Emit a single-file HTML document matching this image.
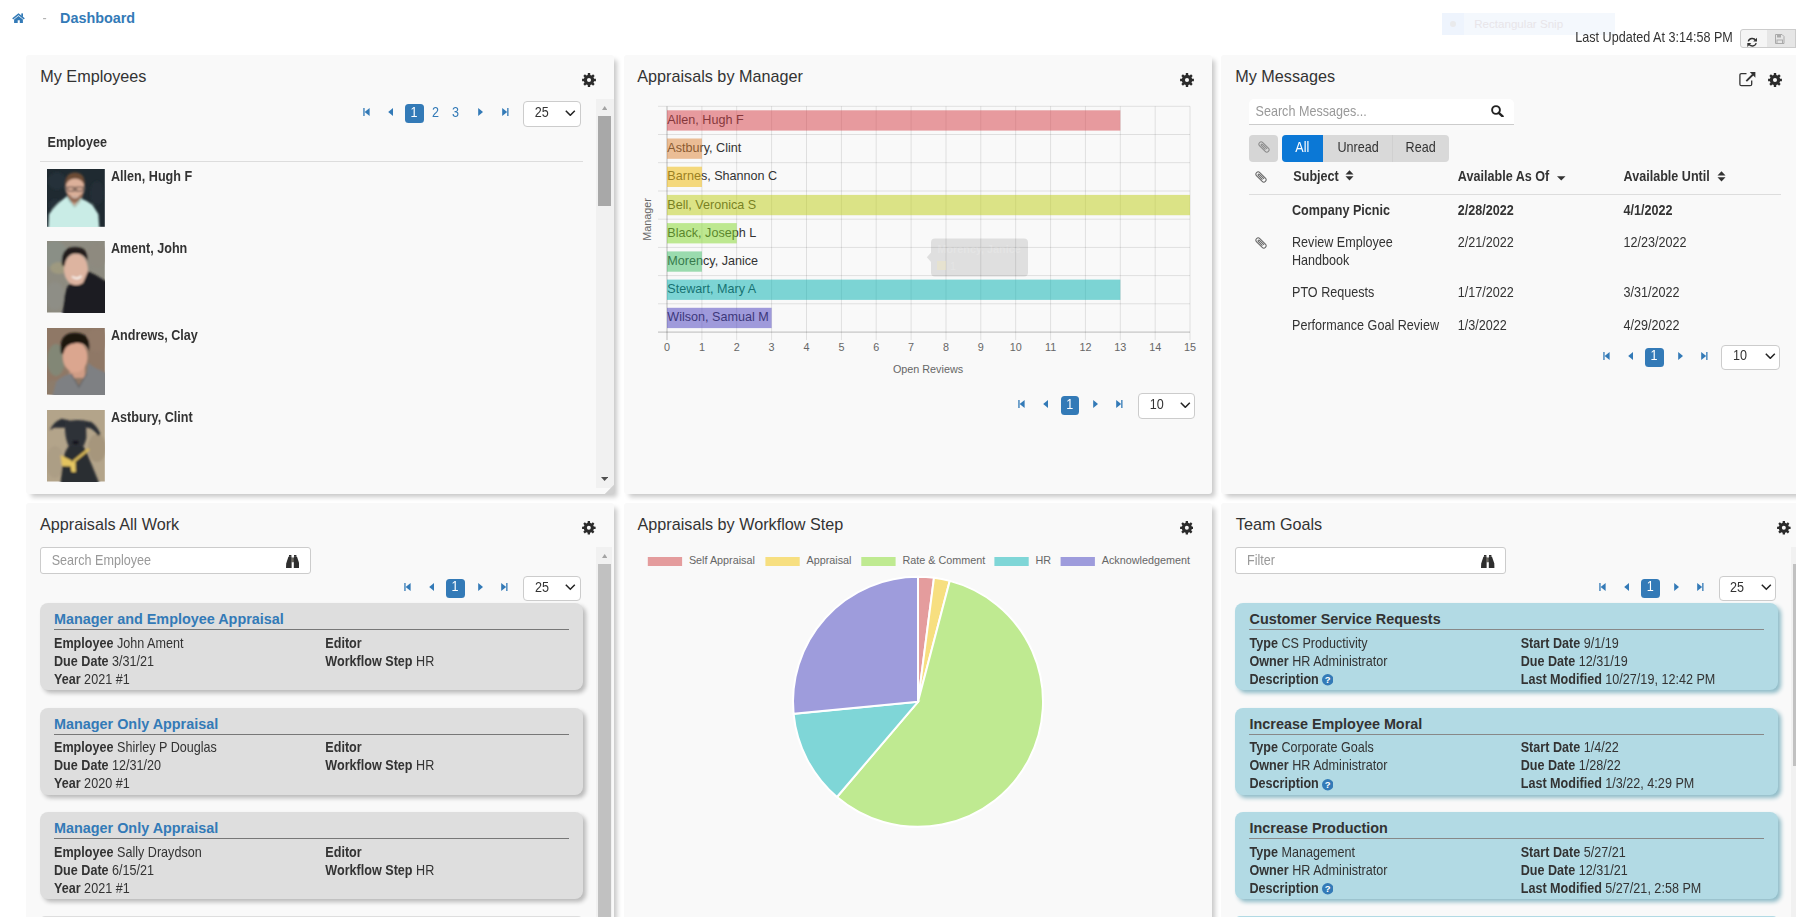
<!DOCTYPE html>
<html><head><meta charset="utf-8"><title>Dashboard</title>
<style>
html,body{margin:0;padding:0;background:#fff;width:1796px;height:917px;overflow:hidden;position:relative}
body{font-family:"Liberation Sans",sans-serif;color:#333}
.a{position:absolute;display:block}
.t{position:absolute;white-space:nowrap;font-family:"Liberation Sans",sans-serif}
b{font-weight:700}
</style></head><body>
<svg class="a" style="left:12px;top:12.5px;" width="13.5" height="11" viewBox="0 0 13.5 11"><path d="M0.7,5.9 L6.5,1.1 L12.3,5.9" fill="none" stroke="#337ab7" stroke-width="1.5"/><rect x="9.3" y="0.4" width="1.7" height="3.4" fill="#337ab7"/><path d="M2.1,10.1 L2.1,6.4 L6.5,2.9 L10.9,6.4 L10.9,10.1 L7.8,10.1 L7.8,7.3 L5.7,7.3 L5.7,10.1 Z" fill="#337ab7"/></svg>
<div class="t " style="left:42.6px;top:9.63px;font-size:12.6px;line-height:18px;font-weight:400;color:#b3b3b3;transform:scaleY(1.09);transform-origin:0 13.37px;">-</div>
<div class="t " style="left:60px;top:8.01px;font-size:14.4px;line-height:20px;font-weight:700;color:#337ab7;">Dashboard</div>
<div class="a" style="left:1442px;top:13px;width:173px;height:22px;background:#f4f8fd"></div>
<div class="a" style="left:1442px;top:13px;width:22px;height:22px;background:#eef4fd"></div>
<div class="a" style="left:1450px;top:21.2px;width:6.2px;height:6px;background:#e9eaec;border-radius:3px"></div>
<div class="t " style="left:1474.2px;top:16.28px;font-size:11.6px;line-height:16px;font-weight:400;color:#e8e5e9;">Rectangular Snip</div>
<div class="t " style="left:1575.3px;top:28.83px;font-size:12.6px;line-height:18px;font-weight:400;color:#333;transform:scaleY(1.09);transform-origin:0 13.37px;">Last Updated At 3:14:58 PM</div>
<div class="a" style="left:1739.5px;top:29.4px;width:28px;height:19px;background:#f5f5f5;border:1px solid #ccc;border-radius:3px 0 0 3px;box-sizing:border-box"></div>
<div class="a" style="left:1767.4px;top:29.4px;width:29px;height:19px;background:#e6e6e6;border:1px solid #ccc;border-left:none;box-sizing:border-box"></div>
<svg class="a" style="left:1746.6px;top:36.8px;" width="10.5" height="10.5" viewBox="0 0 10.5 10.5"><path d="M8.8,3.6 A4.1,4.1 0 0 0 1.3,4.4" fill="none" stroke="#333" stroke-width="1.4"/><path d="M10.2,0.6 L10.2,4.6 L6.2,4.6Z" fill="#333"/><path d="M1.7,6.9 A4.1,4.1 0 0 0 9.2,6.1" fill="none" stroke="#333" stroke-width="1.4"/><path d="M0.3,9.9 L0.3,5.9 L4.3,5.9Z" fill="#333"/></svg>
<svg class="a" style="left:1775px;top:34px;" width="9.5" height="10" viewBox="0 0 9.5 10"><path d="M0.5,0.5 L7,0.5 L9,2.5 L9,9.5 L0.5,9.5Z" fill="none" stroke="#aaa" stroke-width="1"/><rect x="2" y="0.5" width="4" height="3" fill="#aaa"/><rect x="2" y="6" width="5.5" height="3.5" fill="#e6e6e6" stroke="#aaa" stroke-width="1"/></svg>
<div class="a" style="left:26px;top:55px;width:588px;height:439px;background:#f9f9f9;border-radius:3px;box-shadow:4px 4px 5px -1px rgba(0,0,0,0.22)"></div>
<div class="t " style="left:40.3px;top:64.68px;font-size:16.2px;line-height:23px;font-weight:400;color:#333;">My Employees</div>
<svg class="a" style="left:581.9px;top:73px;" width="14" height="14" viewBox="0 0 14 14"><path fill-rule="evenodd" fill="#2b2b2b" d="M5.73,1.90 L5.85,0.09 L8.15,0.09 L8.27,1.90 L9.71,2.50 L11.07,1.30 L12.70,2.93 L11.50,4.29 L12.10,5.73 L13.91,5.85 L13.91,8.15 L12.10,8.27 L11.50,9.71 L12.70,11.07 L11.07,12.70 L9.71,11.50 L8.27,12.10 L8.15,13.91 L5.85,13.91 L5.73,12.10 L4.29,11.50 L2.93,12.70 L1.30,11.07 L2.50,9.71 L1.90,8.27 L0.09,8.15 L0.09,5.85 L1.90,5.73 L2.50,4.29 L1.30,2.93 L2.93,1.30 L4.29,2.50 Z M9.03,7.0 A2.03,2.03 0 1,0 4.970000000000001,7.0 A2.03,2.03 0 1,0 9.03,7.0 Z"/></svg>
<svg class="a" style="left:362.6px;top:108.1px;" width="7" height="8" viewBox="0 0 7 8"><rect x="0.3" y="0" width="1.3" height="8" fill="#337ab7"/><path d="M6.6,0 L1.6,4 L6.6,8Z" fill="#337ab7"/></svg>
<svg class="a" style="left:387.8px;top:108.1px;" width="6" height="8" viewBox="0 0 6 8"><path d="M5,0 L0.2,4 L5,8Z" fill="#337ab7"/></svg>
<div class="a" style="left:405.2px;top:104.1px;width:18.7px;height:19px;background:#337ab7;border-radius:3.5px"></div>
<div class="t " style="left:410.59999999999997px;top:103.53px;font-size:12.6px;line-height:18px;font-weight:400;color:#fff;transform:scaleY(1.09);transform-origin:0 13.37px;">1</div>
<div class="t " style="left:432px;top:103.53px;font-size:12.6px;line-height:18px;font-weight:400;color:#337ab7;transform:scaleY(1.09);transform-origin:0 13.37px;">2</div>
<div class="t " style="left:452px;top:103.53px;font-size:12.6px;line-height:18px;font-weight:400;color:#337ab7;transform:scaleY(1.09);transform-origin:0 13.37px;">3</div>
<svg class="a" style="left:478px;top:108.1px;" width="6" height="8" viewBox="0 0 6 8"><path d="M0.2,0 L5,4 L0.2,8Z" fill="#337ab7"/></svg>
<svg class="a" style="left:501.6px;top:108.1px;" width="7" height="8" viewBox="0 0 7 8"><path d="M0.2,0 L5.2,4 L0.2,8Z" fill="#337ab7"/><rect x="5.2" y="0" width="1.3" height="8" fill="#337ab7"/></svg>
<div class="a" style="left:523.3px;top:101.4px;width:57.3px;height:25.2px;background:#fff;border:1px solid #ccc;border-radius:4px;box-sizing:border-box"></div>
<div class="t " style="left:534.8px;top:103.63px;font-size:12.6px;line-height:18px;font-weight:400;color:#333;transform:scaleY(1.09);transform-origin:0 13.37px;">25</div>
<svg class="a" style="left:565.3999999999999px;top:109.5px;" width="11" height="6.5" viewBox="0 0 11 6.5"><path d="M0.8,0.8 L5.3,5.3 L9.8,0.8" fill="none" stroke="#222" stroke-width="1.5"/></svg>
<div class="t " style="left:47.5px;top:134.43px;font-size:12.6px;line-height:18px;font-weight:700;color:#333;transform:scaleY(1.09);transform-origin:0 13.37px;">Employee</div>
<div class="a" style="left:40px;top:161px;width:543px;height:1px;background:#ddd"></div>
<div class="a" style="left:596.3px;top:99px;width:17.5px;height:388.7px;background:#f1f1f1"></div>
<svg class="a" style="left:603px;top:483px;" width="12" height="12" viewBox="0 0 12 12"><path d="M1.8,11 L11,11 L11,1.7Z" fill="#d0d0d0"/></svg>
<div class="a" style="left:598px;top:116px;width:13px;height:90px;background:#a8a8a8"></div>
<svg class="a" style="left:601.8px;top:106px;" width="5.4" height="4" viewBox="0 0 5.4 4"><path d="M0,4 L2.7,0 L5.4,4Z" fill="#a3a3a3"/></svg>
<svg class="a" style="left:600.9px;top:477px;" width="7.2" height="4" viewBox="0 0 7.2 4"><path d="M0,0 L3.6,4 L7.2,0Z" fill="#505050"/></svg>
<svg class="a" style="left:47.1px;top:169px" width="57.8" height="57.8" viewBox="0 0 57.8 57.8"><defs><filter id="bl0" x="-10%" y="-10%" width="120%" height="120%"><feGaussianBlur stdDeviation="1.1"/></filter></defs><rect width="57.8" height="57.8" fill="#1f2a31"/>
<g filter="url(#bl0)">
<ellipse cx="10" cy="12" rx="9" ry="9" fill="#2a373f" opacity="0.5"/>
<ellipse cx="50" cy="24" rx="7" ry="12" fill="#27343c" opacity="0.5"/>
<ellipse cx="8" cy="36" rx="6" ry="6" fill="#283640" opacity="0.5"/>
<path d="M24,30 L34,30 L35,39 L23,39Z" fill="#c49880"/>
<ellipse cx="28" cy="19" rx="9.6" ry="11" fill="#dcb09a"/>
<path d="M18.2,18 Q17.5,3.6 28,3.6 Q38.5,3.6 38,18 Q36.5,10 28,9.5 Q19.5,10 18.2,18Z" fill="#6c4b36"/>
<path d="M19.5,23 Q20.5,33.8 28,33.8 Q35.5,33.8 36.5,23 Q33,27.5 28,27.5 Q23,27.5 19.5,23Z" fill="#946c56"/><path d="M24.5,27.5 Q28,29.5 31.5,27.5" fill="none" stroke="#f0e0d8" stroke-width="1"/>
<path d="M20,18.2 L27,18.2 L27,22 L20.5,22Z M29,18.2 L36.5,18.2 L36,22 L29,22Z" fill="none" stroke="#4a3a34" stroke-width="1.1"/>
<path d="M1.2,61 L2,45.3 Q8,36 19.6,27.5 L23,33 L28,38.5 L33,33 L34.5,29.7 Q41,32 45.3,35.8 L51.4,45.3 L52.4,61Z" fill="#c9ece6"/>
<path d="M19.6,27.5 L27,38 L34.5,29.7" fill="none" stroke="#a8d6cf" stroke-width="1.2"/>
</g></svg>
<div class="t " style="left:111px;top:167.63px;font-size:12.6px;line-height:18px;font-weight:700;color:#333;transform:scaleY(1.09);transform-origin:0 13.37px;">Allen, Hugh F</div>
<svg class="a" style="left:47.1px;top:241.1px" width="57.8" height="71.5" viewBox="0 0 57.8 71.5"><defs><filter id="bl1" x="-10%" y="-10%" width="120%" height="120%"><feGaussianBlur stdDeviation="1.1"/></filter></defs><rect width="57.8" height="71.5" fill="#8d8b80"/>
<g filter="url(#bl1)">
<ellipse cx="8" cy="14" rx="12" ry="14" fill="#899088" opacity="0.8"/>
<ellipse cx="12" cy="27" rx="9" ry="6" fill="#a39c7e" opacity="0.8"/>
<ellipse cx="8" cy="55" rx="10" ry="14" fill="#8e8e88" opacity="0.7"/>
<ellipse cx="50" cy="14" rx="10" ry="12" fill="#8f897f" opacity="0.7"/>
<path d="M24,38 L37,38 L38,48 L25,50Z" fill="#d2a68e"/>
<ellipse cx="29" cy="28.5" rx="12" ry="16" fill="#ddb4a0"/>
<path d="M15,24.5 Q13,6 28,6 Q42,6 40.5,20 Q37,12 28,12.5 Q19,13 17.5,25Z" fill="#241f1b"/>
<path d="M25,35.5 Q30,39.5 34.5,35" fill="none" stroke="#f6efea" stroke-width="2"/>
<path d="M15.2,75 L17.5,55 Q19,46 22.8,42.7 Q30,46 36,42 L41,30.3 Q50,34 57.6,39.4 L61,39.8 L61,75Z" fill="#1e1e21"/>
</g></svg>
<div class="t " style="left:111px;top:239.73px;font-size:12.6px;line-height:18px;font-weight:700;color:#333;transform:scaleY(1.09);transform-origin:0 13.37px;">Ament, John</div>
<svg class="a" style="left:47.1px;top:328.2px" width="57.8" height="66.5" viewBox="0 0 57.8 66.5"><defs><filter id="bl2" x="-10%" y="-10%" width="120%" height="120%"><feGaussianBlur stdDeviation="1.1"/></filter></defs><rect width="57.8" height="66.5" fill="#8f7866"/>
<g filter="url(#bl2)">
<ellipse cx="9" cy="32" rx="9" ry="16" fill="#7e8c7b" opacity="0.75"/>
<ellipse cx="50" cy="12" rx="10" ry="12" fill="#937a69" opacity="0.7"/>
<ellipse cx="6" cy="60" rx="7" ry="8" fill="#8a7e6e" opacity="0.6"/>
<path d="M22,36 L38,36 L38,50 L23,50Z" fill="#cf9c85"/>
<ellipse cx="28.2" cy="29" rx="12.4" ry="15.5" fill="#dba68f"/>
<path d="M14,25.7 Q11,4.8 28,4.8 Q45,4.8 42,23.4 Q40,14 29,15 Q18,15.5 16,26Z" fill="#1a1411"/>
<path d="M4.8,70 L9.4,53.6 Q16,47 24.1,45.8 L31.9,59 L39.6,45.8 L41.2,35 Q44,37 47.4,39.6 L57.8,44.3 L61,45 L61,70Z" fill="#7e8083"/>
<path d="M24.1,45.8 L31.9,59 L39.6,45.8" fill="none" stroke="#64666a" stroke-width="1.2"/>
</g></svg>
<div class="t " style="left:111px;top:326.83px;font-size:12.6px;line-height:18px;font-weight:700;color:#333;transform:scaleY(1.09);transform-origin:0 13.37px;">Andrews, Clay</div>
<svg class="a" style="left:47.1px;top:410.1px" width="57.8" height="71.5" viewBox="0 0 57.8 71.5"><defs><filter id="bl3" x="-10%" y="-10%" width="120%" height="120%"><feGaussianBlur stdDeviation="1.1"/></filter></defs><rect width="57.8" height="71.5" fill="#b3a48a"/>
<g filter="url(#bl3)">
<ellipse cx="50" cy="38" rx="9" ry="14" fill="#a39279" opacity="0.8"/>
<ellipse cx="8" cy="52" rx="9" ry="16" fill="#a89a82" opacity="0.6"/>
<path d="M2.9,20.3 Q6,12 14.5,8.7 L22.8,10.4 L19.5,17.8 L7,17.8Z" fill="#2b2e34"/>
<path d="M36.1,10.4 L44.4,12 Q51,17 53.5,24.5 L51,25.7 Q48,21 44.4,18.7 L37.7,17Z" fill="#2b2e34"/>
<path d="M18,12 Q28,8.5 39,11 L39.4,28 Q37,36.9 35.2,37 L22,37 Q18.5,30 18,20Z" fill="#2e3137"/>
<ellipse cx="28.6" cy="32.5" rx="3.2" ry="2" fill="#16171a"/>
<path d="M13.3,75 L16,50 Q18,40 22,36 L36.9,36.9 Q40,42 41.9,47.7 L53,75Z" fill="#2b2e33"/>
<path d="M13.5,45 L24.5,50.5 L24,56.5 L15,56Z" fill="#e3c35e"/>
<path d="M23,51.5 L28.5,51.5 L28.8,62 L24.5,62Z" fill="#e6c762"/>
<path d="M26,52 L42,39" stroke="#dcbc58" stroke-width="2.4"/>
</g></svg>
<div class="t " style="left:111px;top:408.73px;font-size:12.6px;line-height:18px;font-weight:700;color:#333;transform:scaleY(1.09);transform-origin:0 13.37px;">Astbury, Clint</div>
<div class="a" style="left:624px;top:55px;width:588px;height:439px;background:#f9f9f9;border-radius:3px;box-shadow:4px 4px 5px -1px rgba(0,0,0,0.22)"></div>
<div class="t " style="left:637.3px;top:64.68px;font-size:16.2px;line-height:23px;font-weight:400;color:#333;">Appraisals by Manager</div>
<svg class="a" style="left:1179.9px;top:73.2px;" width="14" height="14" viewBox="0 0 14 14"><path fill-rule="evenodd" fill="#2b2b2b" d="M5.73,1.90 L5.85,0.09 L8.15,0.09 L8.27,1.90 L9.71,2.50 L11.07,1.30 L12.70,2.93 L11.50,4.29 L12.10,5.73 L13.91,5.85 L13.91,8.15 L12.10,8.27 L11.50,9.71 L12.70,11.07 L11.07,12.70 L9.71,11.50 L8.27,12.10 L8.15,13.91 L5.85,13.91 L5.73,12.10 L4.29,11.50 L2.93,12.70 L1.30,11.07 L2.50,9.71 L1.90,8.27 L0.09,8.15 L0.09,5.85 L1.90,5.73 L2.50,4.29 L1.30,2.93 L2.93,1.30 L4.29,2.50 Z M9.03,7.0 A2.03,2.03 0 1,0 4.970000000000001,7.0 A2.03,2.03 0 1,0 9.03,7.0 Z"/></svg>
<svg class="a" style="left:0px;top:0px;pointer-events:none;z-index:2" width="1796" height="917" viewBox="0 0 1796 917"><line x1="667.0" y1="106.3" x2="667.0" y2="340.1" stroke="rgba(0,0,0,0.25)" stroke-width="1"/><line x1="701.9" y1="106.3" x2="701.9" y2="340.1" stroke="rgba(0,0,0,0.1)" stroke-width="1"/><line x1="736.7" y1="106.3" x2="736.7" y2="340.1" stroke="rgba(0,0,0,0.1)" stroke-width="1"/><line x1="771.6" y1="106.3" x2="771.6" y2="340.1" stroke="rgba(0,0,0,0.1)" stroke-width="1"/><line x1="806.5" y1="106.3" x2="806.5" y2="340.1" stroke="rgba(0,0,0,0.1)" stroke-width="1"/><line x1="841.4" y1="106.3" x2="841.4" y2="340.1" stroke="rgba(0,0,0,0.1)" stroke-width="1"/><line x1="876.2" y1="106.3" x2="876.2" y2="340.1" stroke="rgba(0,0,0,0.1)" stroke-width="1"/><line x1="911.1" y1="106.3" x2="911.1" y2="340.1" stroke="rgba(0,0,0,0.1)" stroke-width="1"/><line x1="946.0" y1="106.3" x2="946.0" y2="340.1" stroke="rgba(0,0,0,0.1)" stroke-width="1"/><line x1="980.8" y1="106.3" x2="980.8" y2="340.1" stroke="rgba(0,0,0,0.1)" stroke-width="1"/><line x1="1015.7" y1="106.3" x2="1015.7" y2="340.1" stroke="rgba(0,0,0,0.1)" stroke-width="1"/><line x1="1050.6" y1="106.3" x2="1050.6" y2="340.1" stroke="rgba(0,0,0,0.1)" stroke-width="1"/><line x1="1085.4" y1="106.3" x2="1085.4" y2="340.1" stroke="rgba(0,0,0,0.1)" stroke-width="1"/><line x1="1120.3" y1="106.3" x2="1120.3" y2="340.1" stroke="rgba(0,0,0,0.1)" stroke-width="1"/><line x1="1155.2" y1="106.3" x2="1155.2" y2="340.1" stroke="rgba(0,0,0,0.1)" stroke-width="1"/><line x1="1190.0" y1="106.3" x2="1190.0" y2="340.1" stroke="rgba(0,0,0,0.1)" stroke-width="1"/><line x1="658.0" y1="106.3" x2="1190.0" y2="106.3" stroke="rgba(0,0,0,0.1)" stroke-width="1"/><line x1="658.0" y1="134.5" x2="1190.0" y2="134.5" stroke="rgba(0,0,0,0.1)" stroke-width="1"/><line x1="658.0" y1="162.7" x2="1190.0" y2="162.7" stroke="rgba(0,0,0,0.1)" stroke-width="1"/><line x1="658.0" y1="191.0" x2="1190.0" y2="191.0" stroke="rgba(0,0,0,0.1)" stroke-width="1"/><line x1="658.0" y1="219.2" x2="1190.0" y2="219.2" stroke="rgba(0,0,0,0.1)" stroke-width="1"/><line x1="658.0" y1="247.4" x2="1190.0" y2="247.4" stroke="rgba(0,0,0,0.1)" stroke-width="1"/><line x1="658.0" y1="275.6" x2="1190.0" y2="275.6" stroke="rgba(0,0,0,0.1)" stroke-width="1"/><line x1="658.0" y1="303.8" x2="1190.0" y2="303.8" stroke="rgba(0,0,0,0.1)" stroke-width="1"/><line x1="658.0" y1="332.1" x2="1190.0" y2="332.1" stroke="rgba(0,0,0,0.25)" stroke-width="1"/><text x="667.3" y="123.8" font-family="Liberation Sans" font-size="12.6" fill="#333">Allen, Hugh F</text><text x="667.3" y="152.0" font-family="Liberation Sans" font-size="12.6" fill="#333">Astbury, Clint</text><text x="667.3" y="180.2" font-family="Liberation Sans" font-size="12.6" fill="#333">Barnes, Shannon C</text><text x="667.3" y="208.5" font-family="Liberation Sans" font-size="12.6" fill="#333">Bell, Veronica S</text><text x="667.3" y="236.7" font-family="Liberation Sans" font-size="12.6" fill="#333">Black, Joseph L</text><text x="667.3" y="264.9" font-family="Liberation Sans" font-size="12.6" fill="#333">Morency, Janice</text><text x="667.3" y="293.1" font-family="Liberation Sans" font-size="12.6" fill="#333">Stewart, Mary A</text><text x="667.3" y="321.3" font-family="Liberation Sans" font-size="12.6" fill="#333">Wilson, Samual M</text><rect x="667.0" y="110.3" width="453.3" height="20.3" fill="rgba(214,60,68,0.5)"/><rect x="667.0" y="138.5" width="34.9" height="20.3" fill="rgba(222,130,50,0.5)"/><rect x="667.0" y="166.7" width="34.9" height="20.3" fill="rgba(240,190,20,0.55)"/><rect x="667.0" y="194.9" width="523.0" height="20.3" fill="rgba(190,205,20,0.5)"/><rect x="667.0" y="223.1" width="69.7" height="20.3" fill="rgba(130,215,40,0.5)"/><rect x="667.0" y="251.4" width="34.9" height="20.3" fill="rgba(60,190,100,0.5)"/><rect x="667.0" y="279.6" width="453.3" height="20.3" fill="rgba(0,175,175,0.5)"/><rect x="667.0" y="307.8" width="104.6" height="20.3" fill="rgba(70,60,190,0.5)"/><text x="667.0" y="350.7" font-family="Liberation Sans" font-size="10.8" fill="#666" text-anchor="middle">0</text><text x="701.9" y="350.7" font-family="Liberation Sans" font-size="10.8" fill="#666" text-anchor="middle">1</text><text x="736.7" y="350.7" font-family="Liberation Sans" font-size="10.8" fill="#666" text-anchor="middle">2</text><text x="771.6" y="350.7" font-family="Liberation Sans" font-size="10.8" fill="#666" text-anchor="middle">3</text><text x="806.5" y="350.7" font-family="Liberation Sans" font-size="10.8" fill="#666" text-anchor="middle">4</text><text x="841.4" y="350.7" font-family="Liberation Sans" font-size="10.8" fill="#666" text-anchor="middle">5</text><text x="876.2" y="350.7" font-family="Liberation Sans" font-size="10.8" fill="#666" text-anchor="middle">6</text><text x="911.1" y="350.7" font-family="Liberation Sans" font-size="10.8" fill="#666" text-anchor="middle">7</text><text x="946.0" y="350.7" font-family="Liberation Sans" font-size="10.8" fill="#666" text-anchor="middle">8</text><text x="980.8" y="350.7" font-family="Liberation Sans" font-size="10.8" fill="#666" text-anchor="middle">9</text><text x="1015.7" y="350.7" font-family="Liberation Sans" font-size="10.8" fill="#666" text-anchor="middle">10</text><text x="1050.6" y="350.7" font-family="Liberation Sans" font-size="10.8" fill="#666" text-anchor="middle">11</text><text x="1085.4" y="350.7" font-family="Liberation Sans" font-size="10.8" fill="#666" text-anchor="middle">12</text><text x="1120.3" y="350.7" font-family="Liberation Sans" font-size="10.8" fill="#666" text-anchor="middle">13</text><text x="1155.2" y="350.7" font-family="Liberation Sans" font-size="10.8" fill="#666" text-anchor="middle">14</text><text x="1190.0" y="350.7" font-family="Liberation Sans" font-size="10.8" fill="#666" text-anchor="middle">15</text><text x="928" y="372.5" font-family="Liberation Sans" font-size="10.8" fill="#666" text-anchor="middle">Open Reviews</text><text x="0" y="0" font-family="Liberation Sans" font-size="10.8" fill="#666" text-anchor="middle" transform="translate(650.5,219.5) rotate(-90)">Manager</text><path d="M935,238.6 L1024,238.6 Q1028,238.6 1028,242.6 L1028,272.4 Q1028,276.4 1024,276.4 L935,276.4 Q931,276.4 931,272.4 L931,262 L926.8,257.3 L931,252.6 L931,242.6 Q931,238.6 935,238.6Z" fill="rgba(0,0,0,0.1)"/><rect x="937" y="261" width="9" height="9" fill="rgba(240,230,190,0.45)"/><text x="937.5" y="252.5" font-family="Liberation Sans" font-size="10.8" font-weight="700" fill="rgba(255,255,255,0.17)">Morency, Janice</text><text x="950" y="269.5" font-family="Liberation Sans" font-size="10.8" fill="rgba(255,255,255,0.17)">1</text></svg>
<svg class="a" style="left:1018.3px;top:400.1px;" width="7" height="8" viewBox="0 0 7 8"><rect x="0.3" y="0" width="1.3" height="8" fill="#337ab7"/><path d="M6.6,0 L1.6,4 L6.6,8Z" fill="#337ab7"/></svg>
<svg class="a" style="left:1043px;top:400.1px;" width="6" height="8" viewBox="0 0 6 8"><path d="M5,0 L0.2,4 L5,8Z" fill="#337ab7"/></svg>
<div class="a" style="left:1060.8px;top:396.1px;width:18.7px;height:19px;background:#337ab7;border-radius:3.5px"></div>
<div class="t " style="left:1066.2px;top:395.53px;font-size:12.6px;line-height:18px;font-weight:400;color:#fff;transform:scaleY(1.09);transform-origin:0 13.37px;">1</div>
<svg class="a" style="left:1092.6px;top:400.1px;" width="6" height="8" viewBox="0 0 6 8"><path d="M0.2,0 L5,4 L0.2,8Z" fill="#337ab7"/></svg>
<svg class="a" style="left:1115.6px;top:400.1px;" width="7" height="8" viewBox="0 0 7 8"><path d="M0.2,0 L5.2,4 L0.2,8Z" fill="#337ab7"/><rect x="5.2" y="0" width="1.3" height="8" fill="#337ab7"/></svg>
<div class="a" style="left:1138.2px;top:393.4px;width:57px;height:25.2px;background:#fff;border:1px solid #ccc;border-radius:4px;box-sizing:border-box"></div>
<div class="t " style="left:1149.7px;top:395.63px;font-size:12.6px;line-height:18px;font-weight:400;color:#333;transform:scaleY(1.09);transform-origin:0 13.37px;">10</div>
<svg class="a" style="left:1180.0px;top:401.5px;" width="11" height="6.5" viewBox="0 0 11 6.5"><path d="M0.8,0.8 L5.3,5.3 L9.8,0.8" fill="none" stroke="#222" stroke-width="1.5"/></svg>
<div class="a" style="left:1221px;top:55px;width:600px;height:439px;background:#f9f9f9;border-radius:3px;box-shadow:4px 4px 5px -1px rgba(0,0,0,0.22)"></div>
<div class="t " style="left:1235.3px;top:64.68px;font-size:16.2px;line-height:23px;font-weight:400;color:#333;">My Messages</div>
<svg class="a" style="left:1739px;top:72px;" width="17" height="15" viewBox="0 0 17 15"><path d="M7.5,1.7 L2.4,1.7 Q0.9,1.7 0.9,3.2 L0.9,12.2 Q0.9,13.7 2.4,13.7 L11.2,13.7 Q12.7,13.7 12.7,12.2 L12.7,8.4" fill="none" stroke="#333" stroke-width="1.3"/><path d="M7.3,9.2 L14,2.5" stroke="#333" stroke-width="1.8"/><path d="M10.8,0.1 L16.4,0.1 L16.4,5.7Z" fill="#333"/></svg>
<svg class="a" style="left:1768.1px;top:73.1px;" width="14" height="14" viewBox="0 0 14 14"><path fill-rule="evenodd" fill="#2b2b2b" d="M5.73,1.90 L5.85,0.09 L8.15,0.09 L8.27,1.90 L9.71,2.50 L11.07,1.30 L12.70,2.93 L11.50,4.29 L12.10,5.73 L13.91,5.85 L13.91,8.15 L12.10,8.27 L11.50,9.71 L12.70,11.07 L11.07,12.70 L9.71,11.50 L8.27,12.10 L8.15,13.91 L5.85,13.91 L5.73,12.10 L4.29,11.50 L2.93,12.70 L1.30,11.07 L2.50,9.71 L1.90,8.27 L0.09,8.15 L0.09,5.85 L1.90,5.73 L2.50,4.29 L1.30,2.93 L2.93,1.30 L4.29,2.50 Z M9.03,7.0 A2.03,2.03 0 1,0 4.970000000000001,7.0 A2.03,2.03 0 1,0 9.03,7.0 Z"/></svg>
<div class="a" style="left:1249.4px;top:99.4px;width:264.6px;height:26px;background:#fff;border-bottom:1px solid #ccc;border-radius:5px 5px 0 0;box-sizing:border-box"></div>
<div class="t " style="left:1255.5px;top:102.63px;font-size:12.6px;line-height:18px;font-weight:400;color:#999;transform:scaleY(1.09);transform-origin:0 13.37px;">Search Messages...</div>
<svg class="a" style="left:1491px;top:104.5px;" width="13" height="12" viewBox="0 0 13 12"><circle cx="5" cy="5" r="3.9" fill="none" stroke="#222" stroke-width="1.9"/><path d="M7.8,7.8 L11.6,11.4" stroke="#222" stroke-width="2.4" stroke-linecap="round"/></svg>
<div class="a" style="left:1249.4px;top:135.2px;width:28.5px;height:26.5px;background:#d6d6d6;border-radius:4px"></div>
<svg class="a" style="left:1257.5px;top:141.3px;" width="12" height="12" viewBox="0 0 12 12"><g transform="translate(6 6) rotate(45) scale(0.9)" fill="none" stroke="#8a8a8a" stroke-width="1.15"><path d="M-4.4,-2.5 L4.4,-2.5 A2.5,2.5 0 0 1 4.4,2.5 L-4.4,2.5 A2.5,2.5 0 0 1 -4.4,-2.5 Z"/><path d="M4,-0.9 L-3.4,-0.9 A0.9,0.9 0 0 0 -3.4,0.9 L3.2,0.9"/></g></svg>
<div class="a" style="left:1282px;top:135.2px;width:167px;height:26.5px;background:#d9d9d9;border-radius:4px"></div>
<div class="a" style="left:1282px;top:135.2px;width:41px;height:26.5px;background:#0b78d6;border-radius:4px 0 0 4px"></div>
<div class="a" style="left:1391.5px;top:135.2px;width:1px;height:26.5px;background:#d0d0d0"></div>
<div class="t " style="left:1295.3px;top:139.03px;font-size:12.6px;line-height:18px;font-weight:400;color:#fff;transform:scaleY(1.09);transform-origin:0 13.37px;">All</div>
<div class="t " style="left:1337.4px;top:139.03px;font-size:12.6px;line-height:18px;font-weight:400;color:#333;transform:scaleY(1.09);transform-origin:0 13.37px;">Unread</div>
<div class="t " style="left:1405.6px;top:139.03px;font-size:12.6px;line-height:18px;font-weight:400;color:#333;transform:scaleY(1.09);transform-origin:0 13.37px;">Read</div>
<svg class="a" style="left:1255.1px;top:170.5px;" width="12" height="12" viewBox="0 0 12 12"><g transform="translate(6 6) rotate(45) scale(0.9)" fill="none" stroke="#666" stroke-width="1.15"><path d="M-4.4,-2.5 L4.4,-2.5 A2.5,2.5 0 0 1 4.4,2.5 L-4.4,2.5 A2.5,2.5 0 0 1 -4.4,-2.5 Z"/><path d="M4,-0.9 L-3.4,-0.9 A0.9,0.9 0 0 0 -3.4,0.9 L3.2,0.9"/></g></svg>
<div class="t " style="left:1293.3px;top:168.03px;font-size:12.6px;line-height:18px;font-weight:700;color:#333;transform:scaleY(1.09);transform-origin:0 13.37px;">Subject</div>
<svg class="a" style="left:1345px;top:170.3px;" width="9" height="11" viewBox="0 0 9 11"><path d="M0.5,4.5 L4.5,0.3 L8.5,4.5Z M0.5,6.3 L4.5,10.5 L8.5,6.3Z" fill="#333"/></svg>
<div class="t " style="left:1457.8px;top:168.03px;font-size:12.6px;line-height:18px;font-weight:700;color:#333;transform:scaleY(1.09);transform-origin:0 13.37px;">Available As Of</div>
<svg class="a" style="left:1557px;top:175.5px;" width="8.5" height="5" viewBox="0 0 8.5 5"><path d="M0,0.3 L4.25,4.6 L8.5,0.3Z" fill="#333"/></svg>
<div class="t " style="left:1623.5px;top:168.03px;font-size:12.6px;line-height:18px;font-weight:700;color:#333;transform:scaleY(1.09);transform-origin:0 13.37px;">Available Until</div>
<svg class="a" style="left:1717px;top:170.5px;" width="9" height="11" viewBox="0 0 9 11"><path d="M0.5,4.5 L4.5,0.3 L8.5,4.5Z M0.5,6.3 L4.5,10.5 L8.5,6.3Z" fill="#333"/></svg>
<div class="a" style="left:1249px;top:194px;width:532px;height:1px;background:#ddd"></div>
<div class="t " style="left:1292px;top:201.63px;font-size:12.6px;line-height:18px;font-weight:700;color:#333;transform:scaleY(1.09);transform-origin:0 13.37px;">Company Picnic</div>
<div class="t " style="left:1457.8px;top:201.63px;font-size:12.6px;line-height:18px;font-weight:700;color:#333;transform:scaleY(1.09);transform-origin:0 13.37px;">2/28/2022</div>
<div class="t " style="left:1623.5px;top:201.63px;font-size:12.6px;line-height:18px;font-weight:700;color:#333;transform:scaleY(1.09);transform-origin:0 13.37px;">4/1/2022</div>
<svg class="a" style="left:1255.1px;top:236.5px;" width="12" height="12" viewBox="0 0 12 12"><g transform="translate(6 6) rotate(45) scale(0.9)" fill="none" stroke="#666" stroke-width="1.15"><path d="M-4.4,-2.5 L4.4,-2.5 A2.5,2.5 0 0 1 4.4,2.5 L-4.4,2.5 A2.5,2.5 0 0 1 -4.4,-2.5 Z"/><path d="M4,-0.9 L-3.4,-0.9 A0.9,0.9 0 0 0 -3.4,0.9 L3.2,0.9"/></g></svg>
<div class="t " style="left:1292px;top:233.63px;font-size:12.6px;line-height:18px;font-weight:400;color:#333;transform:scaleY(1.09);transform-origin:0 13.37px;">Review Employee</div>
<div class="t " style="left:1292px;top:251.63px;font-size:12.6px;line-height:18px;font-weight:400;color:#333;transform:scaleY(1.09);transform-origin:0 13.37px;">Handbook</div>
<div class="t " style="left:1457.8px;top:233.63px;font-size:12.6px;line-height:18px;font-weight:400;color:#333;transform:scaleY(1.09);transform-origin:0 13.37px;">2/21/2022</div>
<div class="t " style="left:1623.5px;top:233.63px;font-size:12.6px;line-height:18px;font-weight:400;color:#333;transform:scaleY(1.09);transform-origin:0 13.37px;">12/23/2022</div>
<div class="t " style="left:1292px;top:283.93px;font-size:12.6px;line-height:18px;font-weight:400;color:#333;transform:scaleY(1.09);transform-origin:0 13.37px;">PTO Requests</div>
<div class="t " style="left:1457.8px;top:283.93px;font-size:12.6px;line-height:18px;font-weight:400;color:#333;transform:scaleY(1.09);transform-origin:0 13.37px;">1/17/2022</div>
<div class="t " style="left:1623.5px;top:283.93px;font-size:12.6px;line-height:18px;font-weight:400;color:#333;transform:scaleY(1.09);transform-origin:0 13.37px;">3/31/2022</div>
<div class="t " style="left:1292px;top:316.93px;font-size:12.6px;line-height:18px;font-weight:400;color:#333;transform:scaleY(1.09);transform-origin:0 13.37px;">Performance Goal Review</div>
<div class="t " style="left:1457.8px;top:316.93px;font-size:12.6px;line-height:18px;font-weight:400;color:#333;transform:scaleY(1.09);transform-origin:0 13.37px;">1/3/2022</div>
<div class="t " style="left:1623.5px;top:316.93px;font-size:12.6px;line-height:18px;font-weight:400;color:#333;transform:scaleY(1.09);transform-origin:0 13.37px;">4/29/2022</div>
<svg class="a" style="left:1602.5px;top:351.5px;" width="7" height="8" viewBox="0 0 7 8"><rect x="0.3" y="0" width="1.3" height="8" fill="#337ab7"/><path d="M6.6,0 L1.6,4 L6.6,8Z" fill="#337ab7"/></svg>
<svg class="a" style="left:1627.5px;top:351.5px;" width="6" height="8" viewBox="0 0 6 8"><path d="M5,0 L0.2,4 L5,8Z" fill="#337ab7"/></svg>
<div class="a" style="left:1645px;top:347.5px;width:18.7px;height:19px;background:#337ab7;border-radius:3.5px"></div>
<div class="t " style="left:1650.4px;top:346.93px;font-size:12.6px;line-height:18px;font-weight:400;color:#fff;transform:scaleY(1.09);transform-origin:0 13.37px;">1</div>
<svg class="a" style="left:1677.5px;top:351.5px;" width="6" height="8" viewBox="0 0 6 8"><path d="M0.2,0 L5,4 L0.2,8Z" fill="#337ab7"/></svg>
<svg class="a" style="left:1700.6px;top:351.5px;" width="7" height="8" viewBox="0 0 7 8"><path d="M0.2,0 L5.2,4 L0.2,8Z" fill="#337ab7"/><rect x="5.2" y="0" width="1.3" height="8" fill="#337ab7"/></svg>
<div class="a" style="left:1721.4px;top:344.79999999999995px;width:58.3px;height:25.2px;background:#fff;border:1px solid #ccc;border-radius:4px;box-sizing:border-box"></div>
<div class="t " style="left:1732.9px;top:347.03px;font-size:12.6px;line-height:18px;font-weight:400;color:#333;transform:scaleY(1.09);transform-origin:0 13.37px;">10</div>
<svg class="a" style="left:1764.5px;top:352.9px;" width="11" height="6.5" viewBox="0 0 11 6.5"><path d="M0.8,0.8 L5.3,5.3 L9.8,0.8" fill="none" stroke="#222" stroke-width="1.5"/></svg>
<div class="a" style="left:26px;top:503px;width:588px;height:440px;background:#f9f9f9;border-radius:3px;box-shadow:4px 4px 5px -1px rgba(0,0,0,0.22)"></div>
<div class="t " style="left:40px;top:513.38px;font-size:16.2px;line-height:23px;font-weight:400;color:#333;">Appraisals All Work</div>
<svg class="a" style="left:582px;top:521px;" width="13.7" height="13.7" viewBox="0 0 13.7 13.7"><path fill-rule="evenodd" fill="#2b2b2b" d="M5.61,1.86 L5.73,0.09 L7.97,0.09 L8.09,1.86 L9.50,2.45 L10.83,1.28 L12.42,2.87 L11.25,4.20 L11.84,5.61 L13.61,5.73 L13.61,7.97 L11.84,8.09 L11.25,9.50 L12.42,10.83 L10.83,12.42 L9.50,11.25 L8.09,11.84 L7.97,13.61 L5.73,13.61 L5.61,11.84 L4.20,11.25 L2.87,12.42 L1.28,10.83 L2.45,9.50 L1.86,8.09 L0.09,7.97 L0.09,5.73 L1.86,5.61 L2.45,4.20 L1.28,2.87 L2.87,1.28 L4.20,2.45 Z M8.8365,6.85 A1.9864999999999997,1.9864999999999997 0 1,0 4.8635,6.85 A1.9864999999999997,1.9864999999999997 0 1,0 8.8365,6.85 Z"/></svg>
<div class="a" style="left:40px;top:547.3px;width:270.7px;height:26.5px;background:#fff;border:1px solid #ccc;border-radius:3px;box-sizing:border-box"></div>
<div class="t " style="left:51.7px;top:551.63px;font-size:12.6px;line-height:18px;font-weight:400;color:#999;transform:scaleY(1.09);transform-origin:0 13.37px;">Search Employee</div>
<svg class="a" style="left:285.8px;top:554.8px;" width="13.5" height="13.5" viewBox="0 0 13.5 13.5"><g fill="#2e2e2e"><rect x="3" y="0" width="2.4" height="1.8"/><rect x="8" y="0" width="2.4" height="1.8"/><path d="M2.4,1.8 L5.6,1.8 L5.6,13 L0,13 L0.2,8.5 Z"/><path d="M7.8,1.8 L11,1.8 L13.3,8.5 L13.4,13 L7.8,13 Z"/><rect x="5.6" y="2.6" width="2.2" height="4.6"/></g><rect x="6.3" y="3" width="0.8" height="4" fill="#c8c0a0" opacity="0.6"/></svg>
<div class="a" style="left:596.2px;top:547px;width:16px;height:370px;background:#f1f1f1"></div>
<div class="a" style="left:598.1px;top:564.1px;width:13px;height:353px;background:#c1c1c1"></div>
<svg class="a" style="left:601.8px;top:554px;" width="5.4" height="4" viewBox="0 0 5.4 4"><path d="M0,4 L2.7,0 L5.4,4Z" fill="#a3a3a3"/></svg>
<svg class="a" style="left:403.8px;top:583.0px;" width="7" height="8" viewBox="0 0 7 8"><rect x="0.3" y="0" width="1.3" height="8" fill="#337ab7"/><path d="M6.6,0 L1.6,4 L6.6,8Z" fill="#337ab7"/></svg>
<svg class="a" style="left:428.6px;top:583.0px;" width="6" height="8" viewBox="0 0 6 8"><path d="M5,0 L0.2,4 L5,8Z" fill="#337ab7"/></svg>
<div class="a" style="left:446.1px;top:579.0px;width:18.7px;height:19px;background:#337ab7;border-radius:3.5px"></div>
<div class="t " style="left:451.5px;top:578.43px;font-size:12.6px;line-height:18px;font-weight:400;color:#fff;transform:scaleY(1.09);transform-origin:0 13.37px;">1</div>
<svg class="a" style="left:478.2px;top:583.0px;" width="6" height="8" viewBox="0 0 6 8"><path d="M0.2,0 L5,4 L0.2,8Z" fill="#337ab7"/></svg>
<svg class="a" style="left:501.3px;top:583.0px;" width="7" height="8" viewBox="0 0 7 8"><path d="M0.2,0 L5.2,4 L0.2,8Z" fill="#337ab7"/><rect x="5.2" y="0" width="1.3" height="8" fill="#337ab7"/></svg>
<div class="a" style="left:523.4px;top:576.3px;width:57.2px;height:25.2px;background:#fff;border:1px solid #ccc;border-radius:4px;box-sizing:border-box"></div>
<div class="t " style="left:534.9px;top:578.53px;font-size:12.6px;line-height:18px;font-weight:400;color:#333;transform:scaleY(1.09);transform-origin:0 13.37px;">25</div>
<svg class="a" style="left:565.4px;top:584.4px;" width="11" height="6.5" viewBox="0 0 11 6.5"><path d="M0.8,0.8 L5.3,5.3 L9.8,0.8" fill="none" stroke="#222" stroke-width="1.5"/></svg>
<div class="a" style="left:40px;top:602.9px;width:543px;height:87.1px;background:#dedede;border-radius:8px;box-shadow:3px 3px 4px #b9b9b9"></div>
<div class="t " style="left:54px;top:609.11px;font-size:14.4px;line-height:20px;font-weight:700;color:#337ab7;">Manager and Employee Appraisal</div>
<div class="a" style="left:53.6px;top:628.9px;width:515.4px;height:1px;background:#777"></div>
<div class="t " style="left:54px;top:634.53px;font-size:12.6px;line-height:18px;font-weight:400;color:#333;transform:scaleY(1.09);transform-origin:0 13.37px;"><b>Employee</b> John Ament</div>
<div class="t " style="left:54px;top:652.53px;font-size:12.6px;line-height:18px;font-weight:400;color:#333;transform:scaleY(1.09);transform-origin:0 13.37px;"><b>Due Date</b> 3/31/21</div>
<div class="t " style="left:54px;top:670.53px;font-size:12.6px;line-height:18px;font-weight:400;color:#333;transform:scaleY(1.09);transform-origin:0 13.37px;"><b>Year</b> 2021 #1</div>
<div class="t " style="left:325.3px;top:634.53px;font-size:12.6px;line-height:18px;font-weight:400;color:#333;transform:scaleY(1.09);transform-origin:0 13.37px;"><b>Editor</b></div>
<div class="t " style="left:325.3px;top:652.53px;font-size:12.6px;line-height:18px;font-weight:400;color:#333;transform:scaleY(1.09);transform-origin:0 13.37px;"><b>Workflow Step</b> HR</div>
<div class="a" style="left:40px;top:707.8px;width:543px;height:87.1px;background:#dedede;border-radius:8px;box-shadow:3px 3px 4px #b9b9b9"></div>
<div class="t " style="left:54px;top:714.01px;font-size:14.4px;line-height:20px;font-weight:700;color:#337ab7;">Manager Only Appraisal</div>
<div class="a" style="left:53.6px;top:733.8px;width:515.4px;height:1px;background:#777"></div>
<div class="t " style="left:54px;top:739.43px;font-size:12.6px;line-height:18px;font-weight:400;color:#333;transform:scaleY(1.09);transform-origin:0 13.37px;"><b>Employee</b> Shirley P Douglas</div>
<div class="t " style="left:54px;top:757.43px;font-size:12.6px;line-height:18px;font-weight:400;color:#333;transform:scaleY(1.09);transform-origin:0 13.37px;"><b>Due Date</b> 12/31/20</div>
<div class="t " style="left:54px;top:775.43px;font-size:12.6px;line-height:18px;font-weight:400;color:#333;transform:scaleY(1.09);transform-origin:0 13.37px;"><b>Year</b> 2020 #1</div>
<div class="t " style="left:325.3px;top:739.43px;font-size:12.6px;line-height:18px;font-weight:400;color:#333;transform:scaleY(1.09);transform-origin:0 13.37px;"><b>Editor</b></div>
<div class="t " style="left:325.3px;top:757.43px;font-size:12.6px;line-height:18px;font-weight:400;color:#333;transform:scaleY(1.09);transform-origin:0 13.37px;"><b>Workflow Step</b> HR</div>
<div class="a" style="left:40px;top:811.9px;width:543px;height:87.1px;background:#dedede;border-radius:8px;box-shadow:3px 3px 4px #b9b9b9"></div>
<div class="t " style="left:54px;top:818.11px;font-size:14.4px;line-height:20px;font-weight:700;color:#337ab7;">Manager Only Appraisal</div>
<div class="a" style="left:53.6px;top:837.9px;width:515.4px;height:1px;background:#777"></div>
<div class="t " style="left:54px;top:843.53px;font-size:12.6px;line-height:18px;font-weight:400;color:#333;transform:scaleY(1.09);transform-origin:0 13.37px;"><b>Employee</b> Sally Draydson</div>
<div class="t " style="left:54px;top:861.53px;font-size:12.6px;line-height:18px;font-weight:400;color:#333;transform:scaleY(1.09);transform-origin:0 13.37px;"><b>Due Date</b> 6/15/21</div>
<div class="t " style="left:54px;top:879.53px;font-size:12.6px;line-height:18px;font-weight:400;color:#333;transform:scaleY(1.09);transform-origin:0 13.37px;"><b>Year</b> 2021 #1</div>
<div class="t " style="left:325.3px;top:843.53px;font-size:12.6px;line-height:18px;font-weight:400;color:#333;transform:scaleY(1.09);transform-origin:0 13.37px;"><b>Editor</b></div>
<div class="t " style="left:325.3px;top:861.53px;font-size:12.6px;line-height:18px;font-weight:400;color:#333;transform:scaleY(1.09);transform-origin:0 13.37px;"><b>Workflow Step</b> HR</div>
<div class="a" style="left:40px;top:916.4px;width:543px;height:10px;background:#dedede;border-radius:8px"></div>
<div class="a" style="left:624px;top:503px;width:588px;height:440px;background:#f9f9f9;border-radius:3px;box-shadow:4px 4px 5px -1px rgba(0,0,0,0.22)"></div>
<div class="t " style="left:637.5px;top:513.38px;font-size:16.2px;line-height:23px;font-weight:400;color:#333;">Appraisals by Workflow Step</div>
<svg class="a" style="left:1179.8px;top:521.1px;" width="13.7" height="13.7" viewBox="0 0 13.7 13.7"><path fill-rule="evenodd" fill="#2b2b2b" d="M5.61,1.86 L5.73,0.09 L7.97,0.09 L8.09,1.86 L9.50,2.45 L10.83,1.28 L12.42,2.87 L11.25,4.20 L11.84,5.61 L13.61,5.73 L13.61,7.97 L11.84,8.09 L11.25,9.50 L12.42,10.83 L10.83,12.42 L9.50,11.25 L8.09,11.84 L7.97,13.61 L5.73,13.61 L5.61,11.84 L4.20,11.25 L2.87,12.42 L1.28,10.83 L2.45,9.50 L1.86,8.09 L0.09,7.97 L0.09,5.73 L1.86,5.61 L2.45,4.20 L1.28,2.87 L2.87,1.28 L4.20,2.45 Z M8.8365,6.85 A1.9864999999999997,1.9864999999999997 0 1,0 4.8635,6.85 A1.9864999999999997,1.9864999999999997 0 1,0 8.8365,6.85 Z"/></svg>
<svg class="a" style="left:0px;top:0px;pointer-events:none" width="1796" height="917" viewBox="0 0 1796 917"><rect x="647.8" y="557" width="34.3" height="9" fill="#e49c9d"/><text x="688.9" y="563.8" font-family="Liberation Sans" font-size="10.8" fill="#666">Self Appraisal</text><rect x="765.4" y="557" width="34.3" height="9" fill="#f7df80"/><text x="806.5" y="563.8" font-family="Liberation Sans" font-size="10.8" fill="#666">Appraisal</text><rect x="861.3" y="557" width="34.3" height="9" fill="#bfea91"/><text x="902.4" y="563.8" font-family="Liberation Sans" font-size="10.8" fill="#666">Rate &amp; Comment</text><rect x="994.4" y="557" width="34.3" height="9" fill="#7fd6d7"/><text x="1035.5" y="563.8" font-family="Liberation Sans" font-size="10.8" fill="#666">HR</text><rect x="1060.6" y="557" width="34.3" height="9" fill="#9e9cdc"/><text x="1101.6999999999998" y="563.8" font-family="Liberation Sans" font-size="10.8" fill="#666">Acknowledgement</text><path d="M918,701.8 L918.00,576.80 A125,125 0 0,1 933.98,577.83 Z" fill="#e49c9d" stroke="#fff" stroke-width="2"/><path d="M918,701.8 L933.98,577.83 A125,125 0 0,1 949.71,580.89 Z" fill="#f7df80" stroke="#fff" stroke-width="2"/><path d="M918,701.8 L949.71,580.89 A125,125 0 1,1 836.97,796.98 Z" fill="#bfea91" stroke="#fff" stroke-width="2"/><path d="M918,701.8 L836.97,796.98 A125,125 0 0,1 793.58,713.80 Z" fill="#7fd6d7" stroke="#fff" stroke-width="2"/><path d="M918,701.8 L793.58,713.80 A125,125 0 0,1 918.00,576.80 Z" fill="#9e9cdc" stroke="#fff" stroke-width="2"/></svg>
<div class="a" style="left:1221px;top:503px;width:600px;height:440px;background:#f9f9f9;border-radius:3px;box-shadow:4px 4px 5px -1px rgba(0,0,0,0.22)"></div>
<div class="t " style="left:1235.8px;top:513.38px;font-size:16.2px;line-height:23px;font-weight:400;color:#333;">Team Goals</div>
<svg class="a" style="left:1777.1px;top:521.1px;" width="13.7" height="13.7" viewBox="0 0 13.7 13.7"><path fill-rule="evenodd" fill="#2b2b2b" d="M5.61,1.86 L5.73,0.09 L7.97,0.09 L8.09,1.86 L9.50,2.45 L10.83,1.28 L12.42,2.87 L11.25,4.20 L11.84,5.61 L13.61,5.73 L13.61,7.97 L11.84,8.09 L11.25,9.50 L12.42,10.83 L10.83,12.42 L9.50,11.25 L8.09,11.84 L7.97,13.61 L5.73,13.61 L5.61,11.84 L4.20,11.25 L2.87,12.42 L1.28,10.83 L2.45,9.50 L1.86,8.09 L0.09,7.97 L0.09,5.73 L1.86,5.61 L2.45,4.20 L1.28,2.87 L2.87,1.28 L4.20,2.45 Z M8.8365,6.85 A1.9864999999999997,1.9864999999999997 0 1,0 4.8635,6.85 A1.9864999999999997,1.9864999999999997 0 1,0 8.8365,6.85 Z"/></svg>
<div class="a" style="left:1235.4px;top:547.3px;width:271px;height:26.5px;background:#fff;border:1px solid #ccc;border-radius:3px;box-sizing:border-box"></div>
<div class="t " style="left:1247px;top:551.63px;font-size:12.6px;line-height:18px;font-weight:400;color:#999;transform:scaleY(1.09);transform-origin:0 13.37px;">Filter</div>
<svg class="a" style="left:1481px;top:554.8px;" width="13.5" height="13.5" viewBox="0 0 13.5 13.5"><g fill="#2e2e2e"><rect x="3" y="0" width="2.4" height="1.8"/><rect x="8" y="0" width="2.4" height="1.8"/><path d="M2.4,1.8 L5.6,1.8 L5.6,13 L0,13 L0.2,8.5 Z"/><path d="M7.8,1.8 L11,1.8 L13.3,8.5 L13.4,13 L7.8,13 Z"/><rect x="5.6" y="2.6" width="2.2" height="4.6"/></g><rect x="6.3" y="3" width="0.8" height="4" fill="#c8c0a0" opacity="0.6"/></svg>
<div class="a" style="left:1791.1px;top:547.2px;width:10px;height:370px;background:#f1f1f1"></div>
<div class="a" style="left:1793px;top:564.1px;width:10px;height:202px;background:#c1c1c1"></div>
<svg class="a" style="left:1599.2px;top:583.0px;" width="7" height="8" viewBox="0 0 7 8"><rect x="0.3" y="0" width="1.3" height="8" fill="#337ab7"/><path d="M6.6,0 L1.6,4 L6.6,8Z" fill="#337ab7"/></svg>
<svg class="a" style="left:1624px;top:583.0px;" width="6" height="8" viewBox="0 0 6 8"><path d="M5,0 L0.2,4 L5,8Z" fill="#337ab7"/></svg>
<div class="a" style="left:1641.3px;top:579.0px;width:18.7px;height:19px;background:#337ab7;border-radius:3.5px"></div>
<div class="t " style="left:1646.7px;top:578.43px;font-size:12.6px;line-height:18px;font-weight:400;color:#fff;transform:scaleY(1.09);transform-origin:0 13.37px;">1</div>
<svg class="a" style="left:1673.8px;top:583.0px;" width="6" height="8" viewBox="0 0 6 8"><path d="M0.2,0 L5,4 L0.2,8Z" fill="#337ab7"/></svg>
<svg class="a" style="left:1696.6px;top:583.0px;" width="7" height="8" viewBox="0 0 7 8"><path d="M0.2,0 L5.2,4 L0.2,8Z" fill="#337ab7"/><rect x="5.2" y="0" width="1.3" height="8" fill="#337ab7"/></svg>
<div class="a" style="left:1718.5px;top:576.3px;width:57.2px;height:25.2px;background:#fff;border:1px solid #ccc;border-radius:4px;box-sizing:border-box"></div>
<div class="t " style="left:1730.0px;top:578.53px;font-size:12.6px;line-height:18px;font-weight:400;color:#333;transform:scaleY(1.09);transform-origin:0 13.37px;">25</div>
<svg class="a" style="left:1760.5px;top:584.4px;" width="11" height="6.5" viewBox="0 0 11 6.5"><path d="M0.8,0.8 L5.3,5.3 L9.8,0.8" fill="none" stroke="#222" stroke-width="1.5"/></svg>
<div class="a" style="left:1234.8px;top:602.9px;width:543.4px;height:87.1px;background:#b2dae4;border-radius:8px;box-shadow:3px 3px 4px #8ebbc7"></div>
<div class="t " style="left:1249.5px;top:609.11px;font-size:14.4px;line-height:20px;font-weight:700;color:#333;">Customer Service Requests</div>
<div class="a" style="left:1249px;top:628.9px;width:515px;height:1px;background:#888"></div>
<div class="t " style="left:1249.5px;top:634.53px;font-size:12.6px;line-height:18px;font-weight:400;color:#333;transform:scaleY(1.09);transform-origin:0 13.37px;"><b>Type</b> CS Productivity</div>
<div class="t " style="left:1249.5px;top:652.53px;font-size:12.6px;line-height:18px;font-weight:400;color:#333;transform:scaleY(1.09);transform-origin:0 13.37px;"><b>Owner</b> HR Administrator</div>
<div class="t " style="left:1249.5px;top:670.53px;font-size:12.6px;line-height:18px;font-weight:400;color:#333;transform:scaleY(1.09);transform-origin:0 13.37px;"><b>Description</b></div>
<svg class="a" style="left:1321.5px;top:674.1999999999999px;" width="11.5" height="11.5" viewBox="0 0 11.5 11.5"><circle cx="5.75" cy="5.75" r="5.75" fill="#337ab7"/><text x="5.75" y="9.4" font-family="Liberation Sans" font-weight="700" font-size="9.5" fill="#fff" text-anchor="middle">?</text></svg>
<div class="t " style="left:1520.7px;top:634.53px;font-size:12.6px;line-height:18px;font-weight:400;color:#333;transform:scaleY(1.09);transform-origin:0 13.37px;"><b>Start Date</b> 9/1/19</div>
<div class="t " style="left:1520.7px;top:652.53px;font-size:12.6px;line-height:18px;font-weight:400;color:#333;transform:scaleY(1.09);transform-origin:0 13.37px;"><b>Due Date</b> 12/31/19</div>
<div class="t " style="left:1520.7px;top:670.53px;font-size:12.6px;line-height:18px;font-weight:400;color:#333;transform:scaleY(1.09);transform-origin:0 13.37px;"><b>Last Modified</b> 10/27/19, 12:42 PM</div>
<div class="a" style="left:1234.8px;top:707.8px;width:543.4px;height:87.1px;background:#b2dae4;border-radius:8px;box-shadow:3px 3px 4px #8ebbc7"></div>
<div class="t " style="left:1249.5px;top:714.01px;font-size:14.4px;line-height:20px;font-weight:700;color:#333;">Increase Employee Moral</div>
<div class="a" style="left:1249px;top:733.8px;width:515px;height:1px;background:#888"></div>
<div class="t " style="left:1249.5px;top:739.43px;font-size:12.6px;line-height:18px;font-weight:400;color:#333;transform:scaleY(1.09);transform-origin:0 13.37px;"><b>Type</b> Corporate Goals</div>
<div class="t " style="left:1249.5px;top:757.43px;font-size:12.6px;line-height:18px;font-weight:400;color:#333;transform:scaleY(1.09);transform-origin:0 13.37px;"><b>Owner</b> HR Administrator</div>
<div class="t " style="left:1249.5px;top:775.43px;font-size:12.6px;line-height:18px;font-weight:400;color:#333;transform:scaleY(1.09);transform-origin:0 13.37px;"><b>Description</b></div>
<svg class="a" style="left:1321.5px;top:779.0999999999999px;" width="11.5" height="11.5" viewBox="0 0 11.5 11.5"><circle cx="5.75" cy="5.75" r="5.75" fill="#337ab7"/><text x="5.75" y="9.4" font-family="Liberation Sans" font-weight="700" font-size="9.5" fill="#fff" text-anchor="middle">?</text></svg>
<div class="t " style="left:1520.7px;top:739.43px;font-size:12.6px;line-height:18px;font-weight:400;color:#333;transform:scaleY(1.09);transform-origin:0 13.37px;"><b>Start Date</b> 1/4/22</div>
<div class="t " style="left:1520.7px;top:757.43px;font-size:12.6px;line-height:18px;font-weight:400;color:#333;transform:scaleY(1.09);transform-origin:0 13.37px;"><b>Due Date</b> 1/28/22</div>
<div class="t " style="left:1520.7px;top:775.43px;font-size:12.6px;line-height:18px;font-weight:400;color:#333;transform:scaleY(1.09);transform-origin:0 13.37px;"><b>Last Modified</b> 1/3/22, 4:29 PM</div>
<div class="a" style="left:1234.8px;top:811.9px;width:543.4px;height:87.1px;background:#b2dae4;border-radius:8px;box-shadow:3px 3px 4px #8ebbc7"></div>
<div class="t " style="left:1249.5px;top:818.11px;font-size:14.4px;line-height:20px;font-weight:700;color:#333;">Increase Production</div>
<div class="a" style="left:1249px;top:837.9px;width:515px;height:1px;background:#888"></div>
<div class="t " style="left:1249.5px;top:843.53px;font-size:12.6px;line-height:18px;font-weight:400;color:#333;transform:scaleY(1.09);transform-origin:0 13.37px;"><b>Type</b> Management</div>
<div class="t " style="left:1249.5px;top:861.53px;font-size:12.6px;line-height:18px;font-weight:400;color:#333;transform:scaleY(1.09);transform-origin:0 13.37px;"><b>Owner</b> HR Administrator</div>
<div class="t " style="left:1249.5px;top:879.53px;font-size:12.6px;line-height:18px;font-weight:400;color:#333;transform:scaleY(1.09);transform-origin:0 13.37px;"><b>Description</b></div>
<svg class="a" style="left:1321.5px;top:883.1999999999999px;" width="11.5" height="11.5" viewBox="0 0 11.5 11.5"><circle cx="5.75" cy="5.75" r="5.75" fill="#337ab7"/><text x="5.75" y="9.4" font-family="Liberation Sans" font-weight="700" font-size="9.5" fill="#fff" text-anchor="middle">?</text></svg>
<div class="t " style="left:1520.7px;top:843.53px;font-size:12.6px;line-height:18px;font-weight:400;color:#333;transform:scaleY(1.09);transform-origin:0 13.37px;"><b>Start Date</b> 5/27/21</div>
<div class="t " style="left:1520.7px;top:861.53px;font-size:12.6px;line-height:18px;font-weight:400;color:#333;transform:scaleY(1.09);transform-origin:0 13.37px;"><b>Due Date</b> 12/31/21</div>
<div class="t " style="left:1520.7px;top:879.53px;font-size:12.6px;line-height:18px;font-weight:400;color:#333;transform:scaleY(1.09);transform-origin:0 13.37px;"><b>Last Modified</b> 5/27/21, 2:58 PM</div>
<div class="a" style="left:1234.8px;top:916.4px;width:543.4px;height:10px;background:#b2dae4;border-radius:8px"></div>
</body></html>
